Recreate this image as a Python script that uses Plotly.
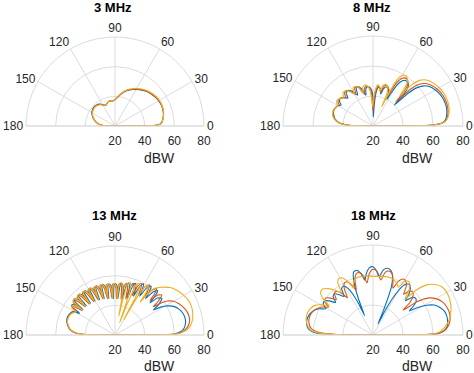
import plotly.graph_objects as go

# ---------------- data (dBW vs elevation angle) ----------------
freq_titles = ["3 MHz", "8 MHz", "13 MHz", "18 MHz"]
angle_ticks = [0, 30, 60, 90, 120, 150, 180]
r_ticks = [20, 40, 60, 80]
series_colors = ["#0072BD", "#D95319", "#EDB120"]

# 3 MHz
blue_3 = [(0,20),(0.3,36),(0.8,46),(2,50),(5,51.8),(10,53),(15,53.8),(20,54.2),(25,54.3),(32,53.9),(40,52.8),(48,51.5),(56,49.6),(64,47.4),(72,45),(78,42.6),(84,40),(90,37.8),(95,37),(100,37.2),(105,37),(110,36),(114,35.3),(119,36.3),(125,38),(132,38.9),(138,39.1),(145,38.7),(152,37.6),(158,36.2),(164,34.5),(170,32.4),(175,30),(178.5,27),(179.5,24),(180,20)]
red_3 = [(0,20),(0.3,36),(0.8,46),(2,50),(5,51.8),(10,53),(15,53.8),(20,54.2),(25,54.4),(32,54),(40,53),(48,51.7),(56,49.8),(64,47.6),(72,45.1),(78,42.6),(84,40),(90,37.8),(95,37),(100,37.2),(105,37),(110,36),(114,35.3),(119,36.2),(125,37.8),(132,38.6),(138,38.8),(145,38.4),(152,37.4),(158,36),(164,34.4),(170,32.4),(175,30),(178.5,27),(179.5,24),(180,20)]
yellow_3 = [(0,20),(0.3,36),(0.8,46),(2,50),(5,51.8),(10,53.1),(15,54),(20,54.5),(25,54.7),(32,54.5),(40,53.5),(48,52.2),(56,50.3),(64,48.1),(72,45.5),(78,42.9),(84,40.2),(90,37.9),(95,37),(100,37.2),(105,37),(110,36),(114,35.3),(119,36.1),(125,37.5),(132,38.3),(138,38.5),(145,38.1),(152,37.2),(158,35.9),(164,34.3),(170,32.3),(175,30),(178.5,27),(179.5,24),(180,20)]

# 8 MHz
blue_8 = [(0,20),(0.3,45),(1,60),(2.5,66),(5,68.5),(10,70),(15,70.5),(20,70.3),(25,69.5),(30,68),(35,65.8),(38,63.5),(41,59),(43,52),(44.5,40),(46,50),(48,55),(51,57),(54,57.3),(57,56),(59.5,52),(61.5,44),(62.5,40),(65,45),(68,47),(71,47.5),(74,46),(76.5,42),(79,45.5),(82,46),(84.5,43),(86.5,35),(88,26),(89.5,34),(91,42),(94,45.5),(98,46.5),(101,45),(103,41),(107,46),(111,48),(114,47.5),(116.5,43),(121,47),(125,49),(129,48.5),(132,45),(136,47.5),(140,48.5),(144,47.5),(146.5,45.5),(150,47),(155,48),(160,48),(165,47),(170,45.5),(174,43),(177,39),(179,32),(179.7,25),(180,20)]
red_8 = [(0,20),(0.3,45),(1,60),(2.5,66.5),(5,69.2),(10,70.8),(15,71.4),(20,71.3),(25,70.6),(30,69.3),(35,67.3),(39,65),(42,61.5),(44.5,55),(46.5,42),(48,51),(50,56),(53,58.3),(56,58.5),(59,57),(61.5,52.5),(63,45),(64,42),(66,46),(69,48),(72,48.5),(75,47),(77.5,43),(80,46),(83,46.5),(85.5,43),(88,36),(90,30),(91.5,36),(93,43),(96,46),(100,47),(103,45.5),(105,42),(109,46.5),(113,48.5),(116,48),(118.5,44),(123,47.5),(127,49.5),(131,49),(134,46),(138,48),(142,49),(146,48),(148.5,46.5),(152,47.5),(157,48.3),(162,48),(167,47),(171,45.2),(175,42.5),(178,37),(179.5,29),(180,20)]
yellow_8 = [(0,20),(0.3,45),(1,60),(2.5,66.5),(5,69.5),(10,71.5),(15,72.3),(20,72.4),(25,72),(30,71),(35,69.5),(40,67.5),(44,64),(47,57),(48.5,47),(50,52),(52,57),(55,59.5),(58,59.8),(61,58),(63,53),(64.5,42),(65.5,34),(67,44),(70,48),(73,49),(76,48),(78.5,44),(81,47),(84,47.5),(86.5,44),(89,38),(91,33),(93,39),(95,44),(98,47),(102,48),(105,46.5),(107,43),(111,47.5),(115,49),(118,48.5),(120.5,45),(125,48.5),(129,50),(133,49.5),(136,47),(140,48.5),(144,49.5),(148,48.5),(150.5,47),(154,48),(159,48.5),(164,48),(168,47),(172,45),(175.5,42),(178,37),(179.5,29),(180,20)]

# 13 MHz
blue_13 = [(0,20),(0.3,48),(1,60),(3,64.5),(6,67),(10,68.3),(14,68.6),(18,68),(22,66.5),(26,64),(29,60.5),(31.5,56),(33,51),(35,56),(38,60),(41,58),(42.5,52),(44,57),(46,61.5),(48.5,59),(50,52),(51.5,57),(53.5,61),(56,58.5),(57.5,51),(59,56),(61,59.5),(63,57),(64.5,49),(66,54),(68,57.5),(70,55.5),(71.5,45.5),(73,53),(75,56),(77,54.5),(78.5,44.5),(80,52),(82,55),(84,54),(85.5,44.5),(87,52),(89,54.5),(91,54),(92.5,44.5),(94,52),(96,54.5),(98,54.3),(99.5,45),(101,52),(103,55),(105,54.8),(106.5,45.5),(108,52.5),(110,55.2),(112,55),(113.5,46),(115,53),(117,55.6),(119,55.3),(120.5,46.5),(122,53.5),(124,56),(126,55.8),(127.5,47),(129,54),(131,56.5),(133,56.2),(134.5,47.5),(136,54),(138,56.5),(140,56),(141.5,47.5),(143,53.5),(145,55.5),(147,54.5),(148.5,48),(151,52.5),(155,53.8),(160,54.3),(165,53.6),(170,52),(174,50),(177,46.5),(179,40),(179.7,30),(180,20)]
red_13 = [(0,20),(0.3,48),(1,61),(3,66),(6,69),(10,71),(14,71.5),(18,71),(22,69.8),(26,68),(30,65.5),(33,62),(35,57),(36.5,52),(38,57),(40.5,61.5),(43,59.5),(44.5,53),(46,58),(48,62),(50.5,59.5),(52,52.5),(53.5,57.5),(55.5,61),(58,58.5),(59.5,51),(61,56),(63,59),(65,56.5),(66.5,49),(68,54),(70,57),(72,55),(73.5,45.5),(75,53),(77,55.8),(79,54.3),(80.5,44.5),(82,52),(84,55),(86,54),(87.5,44.5),(89,52),(91,54.5),(93,54),(94.5,44.5),(96,52),(98,54.5),(100,54.3),(101.5,45),(103,52.5),(105,55),(107,54.8),(108.5,45.5),(110,52.5),(112,55.2),(114,55),(115.5,46),(117,53),(119,55.6),(121,55.3),(122.5,46.5),(124,53.5),(126,56),(128,55.8),(129.5,47),(131,54),(133,56.3),(135,56),(136.5,47.5),(138,54),(140,56.2),(142,55.7),(143.5,47.5),(145,53),(147,54.5),(148.5,51),(151,52),(155,53.3),(160,53.8),(165,53.2),(170,51.8),(174,49.8),(177,46.5),(179,40),(179.7,30),(180,20)]
yellow_13 = [(0,20),(0.3,48),(1,62),(3,67),(6,70.5),(10,72.8),(15,74.3),(20,75),(25,74.8),(30,73.5),(35,71.8),(40,69.5),(44,66.5),(47.5,63.5),(50,61),(51.5,55),(52.5,48),(54,56),(56,60),(58,59),(59.5,50),(60.5,32),(61.5,48),(63,57),(65,58.5),(67,56.5),(68.5,42),(69.5,29),(70.5,42),(72,54),(74,57),(76,56),(77.5,45),(78.5,33),(79.5,45),(81,53),(83,55.5),(85,54.5),(86.5,44.5),(88,52),(90,54.5),(92,54.2),(93.5,45),(95,52),(97,54.6),(99,54.3),(100.5,45.5),(102,52.5),(104,55),(106,54.8),(107.5,46),(109,53),(111,55.3),(113,55),(114.5,46.5),(116,53.5),(118,55.8),(120,55.5),(121.5,47),(123,54),(125,56.3),(127,56),(128.5,47.5),(130,54.5),(132,56.8),(134,56.5),(135.5,48),(137,54.5),(139,56.8),(141,56.3),(142.5,48),(144,53.5),(146,55),(148,54),(149.5,50.5),(152,52),(156,53.2),(161,53.6),(166,53),(170,51.5),(174,49.5),(177,46),(179,40),(179.7,30),(180,20)]

# 18 MHz
blue_18 = [(0,20),(0.3,50),(1,62),(3,67),(6,69.5),(10,70.5),(14,70.8),(18,70.3),(22,68.5),(26,65.5),(29,61),(31.5,55),(33.5,49),(35.5,53),(38,56.5),(41,57.5),(44,56),(46.5,51.5),(48.5,56),(51.5,60),(54.5,61.5),(57.5,60),(60,55),(62,47),(64,36),(65.5,28),(67,38),(69,54),(72,62),(75,65),(78,65.5),(81,64),(84,59),(87,63),(90,65.5),(93,65),(96,61.5),(98.5,57),(101,61.5),(104,64.5),(107,64),(110,57),(112,45),(113.5,34),(115,45),(118,55),(121,58),(124,57.5),(127,52),(130,55),(133,57.5),(136,57),(139,53),(142,57),(145,59.5),(148,59),(151,56),(154,60),(158,63),(163,64.8),(168,65.2),(172,64.5),(175,63),(178,58),(179.5,45),(180,20)]
red_18 = [(0,20),(0.3,50),(1,62),(3,67),(6,70),(10,72),(15,73),(20,72.8),(25,71.5),(30,68.5),(34,64),(37,57),(39.5,46),(41.5,53),(44.5,57.5),(47.5,59),(50.5,58),(53,54),(55.5,59),(58.5,62),(61.5,62.5),(64.5,60),(67,54),(70,59),(73,63),(76,64),(79,62.5),(82,57),(85,61),(88,63.5),(91,63.5),(94,60),(96.5,55),(99,59.5),(102,62.5),(105,62.5),(108,59),(110.5,52),(113,56),(116,59.5),(119,59.5),(122,56),(124.5,50),(127,55),(130,58),(133,58),(136,54),(139,57.5),(142,60),(145,59.5),(148,55),(151,58.5),(155,61.5),(160,63.5),(165,64),(170,63.3),(174,61.5),(177,57),(179.5,42),(180,20)]
yellow_18 = [(0,20),(0.3,48),(1,60),(3,65),(6,68),(10,71),(15,73.5),(20,75.3),(25,76.4),(30,76.8),(35,76),(39,73.5),(43,69),(46,62),(48.5,52),(50.5,57),(53.5,61.5),(56.5,63),(59.5,61.5),(62,56),(64.5,57.5),(70,59.5),(76,60),(82,59.5),(88,59),(94,59.3),(100,59.8),(106,59.5),(110,58),(112.5,54),(115,59),(118,63),(121,64),(124,62),(127,55),(130,59),(134,63),(138,65.5),(141,65),(144,61),(146.5,55),(149,59),(153,63.5),(158,65.5),(163,66.2),(168,65.5),(172,64),(175.5,61.5),(178,56),(179.5,42),(180,20)]

panels = [
    [blue_3, red_3, yellow_3],
    [blue_8, red_8, yellow_8],
    [blue_13, red_13, yellow_13],
    [blue_18, red_18, yellow_18],
]

# ---------------- layout geometry (pixels) ----------------
W, H = 474, 373
centers = [(115, 126, 89), (373, 126, 90), (115, 335, 89), (373, 335, 90)]
title_pos = [(113, 7), (372, 7), (114, 215), (373, 215)]
unit_pos = [(159, 158), (417, 158), (159, 366), (417, 366)]

GRID = "#dcdcdc"
TXT = "#262626"
FONT = "Liberation Sans, Arial, Helvetica, sans-serif"

fig = go.Figure()
annotations = []
for i, curves in enumerate(panels):
    sub = "polar" if i == 0 else f"polar{i+1}"
    for pts, col in zip(curves, series_colors):
        th = [p[0] for p in pts]
        rr = [p[1] for p in pts]
        fig.add_trace(go.Scatterpolar(
            theta=th, r=rr, mode="lines", subplot=sub,
            line=dict(color=col, width=1.1, shape="spline", smoothing=0.6),
            showlegend=False, hoverinfo="skip"))
    cx, cy, R = centers[i]
    fig.layout[sub] = dict(
        domain=dict(x=[(cx - R) / W, (cx + R) / W], y=[1 - cy / H, 1 - (cy - R) / H]),
        sector=[0, 180],
        bgcolor="white",
        angularaxis=dict(
            tickvals=angle_ticks, ticktext=[str(a) for a in angle_ticks],
            direction="counterclockwise", rotation=0,
            gridcolor=GRID, linecolor=GRID, showline=True, ticks="",
            tickfont=dict(size=12, color=TXT, family=FONT)),
        radialaxis=dict(
            range=[20, 80], tickvals=r_ticks, ticktext=[str(v) for v in r_ticks],
            angle=0, side="clockwise", showline=False,
            ticks="outside", ticklen=4, tickcolor="rgba(0,0,0,0)",
            gridcolor=GRID, tickfont=dict(size=12, color=TXT, family=FONT)),
    )
    tx, ty = title_pos[i]
    annotations.append(dict(text=f"<b>{freq_titles[i]}</b>", x=tx / W, y=1 - ty / H,
                            xref="paper", yref="paper", showarrow=False,
                            xanchor="center", yanchor="middle",
                            font=dict(size=13, color="black", family=FONT)))
    ux, uy = unit_pos[i]
    annotations.append(dict(text="dBW", x=ux / W, y=1 - uy / H,
                            xref="paper", yref="paper", showarrow=False,
                            xanchor="center", yanchor="middle",
                            font=dict(size=14, color=TXT, family=FONT)))

fig.update_layout(width=W, height=H, margin=dict(l=0, r=0, t=0, b=0),
                  paper_bgcolor="white", plot_bgcolor="white",
                  annotations=annotations, showlegend=False)
fig.write_html("out.html", post_script="document.body.style.margin='0px';",
               config={"displayModeBar": False})
